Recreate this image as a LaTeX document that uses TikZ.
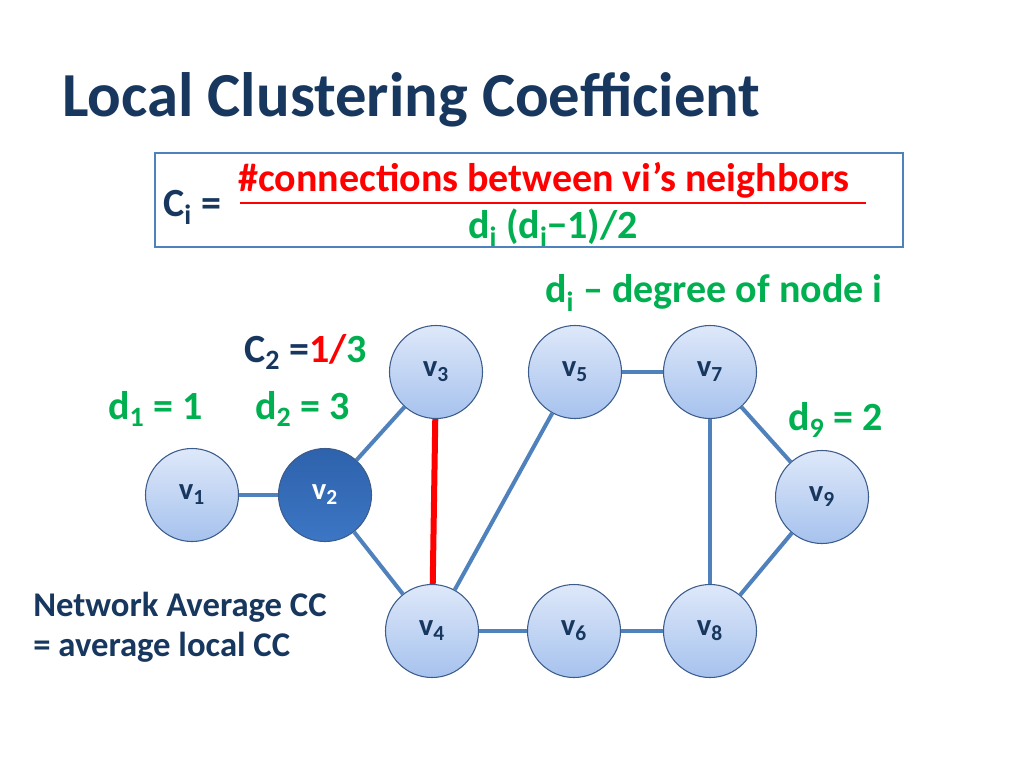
\documentclass[tikz,border=0pt]{standalone}
\usepackage{fontspec}
\setmainfont{Carlito}
\usepackage{tikz}

\definecolor{navy}{RGB}{23,55,94}
\definecolor{ggreen}{RGB}{0,176,80}
\definecolor{edgeblue}{RGB}{79,129,189}
\definecolor{nodetop}{RGB}{222,232,249}
\definecolor{nodebot}{RGB}{166,194,238}
\definecolor{nodeline}{RGB}{60,92,140}
\definecolor{darktop}{RGB}{46,98,172}
\definecolor{darkbot}{RGB}{60,118,196}

\tikzset{
  vert/.style={circle,draw=nodeline,line width=0.8pt,minimum size=69.75pt,inner sep=0pt,
    top color=nodetop,bottom color=nodebot,text=navy,font=\bfseries\fontsize{23}{25}\selectfont},
  vertsel/.style={vert,top color=darktop,bottom color=darkbot,text=white},
  link/.style={edgeblue,line width=3pt},
  lab/.style={font=\bfseries\fontsize{30}{32}\selectfont,text=ggreen,inner sep=0pt}
}

\begin{document}
\begin{tikzpicture}[x=0.75pt,y=-0.75pt]
\fill[white] (0,0) rectangle (1024,768);
\useasboundingbox (0,0) rectangle (1024,768);

\node[font=\bfseries\fontsize{47}{50}\selectfont,text=navy,anchor=west,inner sep=0pt] (title) at (62,100) {Local Clustering Coefficient};

% formula box
\draw[edgeblue,line width=1.6pt] (155,153) rectangle (903,247);
\node[font=\bfseries\fontsize{30}{32}\selectfont,text=navy,anchor=west,inner sep=0pt] (ci) at (163,207) {C\textsubscript{i} =};
\node[font=\bfseries\fontsize{30}{32}\selectfont,text=red,inner sep=0pt] (num) at (544,180) {\#connections between vi’s neighbors};
\coordinate (fl) at (240,203);
\coordinate (fr) at (866,203);
\draw[red,line width=1.6pt] (fl) -- (fr);
\node[lab] (den) at (553,228) {d\textsubscript{i} (d\textsubscript{i}−1)/2};

\node[lab,anchor=west] (deg) at (545,293) {d\textsubscript{i} – degree of node i};
\node[font=\bfseries\fontsize{30}{32}\selectfont,anchor=west,inner sep=0pt] (c2) at (244,352) {\textcolor{navy}{C\textsubscript{2} =}\textcolor{red}{1/}\textcolor{ggreen}{3}};
\node[lab,anchor=west] (d1) at (108,409) {d\textsubscript{1} = 1};
\node[lab,anchor=west] (d2) at (255,409) {d\textsubscript{2} = 3};
\node[lab,anchor=west] (d9) at (788,420) {d\textsubscript{9} = 2};

\node[font=\bfseries\fontsize{26}{30}\selectfont,text=navy,anchor=north west,align=left,inner sep=0pt] (avg) at (33,592) {Network Average CC\\= average local CC};

% graph
\node[vert] (v1) at (192,495) {v\textsubscript{1}};
\node[vertsel] (v2) at (325,495) {v\textsubscript{2}};
\node[vert] (v3) at (436,372) {v\textsubscript{3}};
\node[vert] (v4) at (432,631) {v\textsubscript{4}};
\node[vert] (v5) at (575,372) {v\textsubscript{5}};
\node[vert] (v6) at (574,631) {v\textsubscript{6}};
\node[vert] (v7) at (710,372) {v\textsubscript{7}};
\node[vert] (v8) at (710,631) {v\textsubscript{8}};
\node[vert] (v9) at (822,497) {v\textsubscript{9}};

\draw[link] (v1) -- (v2);
\draw[link] (v2) -- (v3);
\draw[link] (v2) -- (v4);
\draw[link] (v4) -- (v5);
\draw[link] (v4) -- (v6);
\draw[link] (v5) -- (v7);
\draw[link] (v6) -- (v8);
\draw[link] (v7) -- (v8);
\draw[link] (v7) -- (v9);
\draw[link] (v8) -- (v9);
\draw[red,line width=4.5pt] (v3) -- (v4);

\end{tikzpicture}
\end{document}
